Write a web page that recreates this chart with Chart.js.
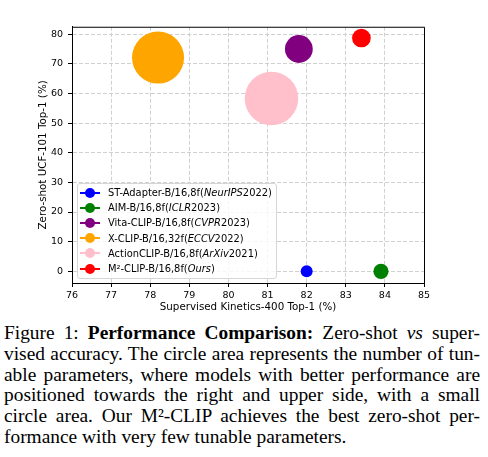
<!DOCTYPE html>
<html>
<head>
<meta charset="utf-8">
<script src="https://cdn.jsdelivr.net/npm/chart.js@4.4.0/dist/chart.umd.min.js"></script>
<style>
  html, body { margin: 0; padding: 0; background: #fff; }
  body { width: 488px; height: 457px; position: relative; overflow: hidden; }
  #chart-box { position: absolute; left: 0; top: 0; width: 488px; height: 318px; }
  #legend {
    position: absolute; left: 77px; top: 183px; width: 200px; box-sizing: border-box;
    padding: 1px 0 2px 0; border: 1px solid #d6d6d6; border-radius: 3px;
    background: rgba(255, 255, 255, 0.8);
    font: 9.9px 'DejaVu Sans'; color: #000;
  }
  .row { height: 15.2px; display: flex; align-items: center; white-space: nowrap; }
  .mark { position: relative; width: 20px; height: 10px; margin: 0 8px 0 2px; flex: none; }
  .mark .ln { position: absolute; left: 0; right: 0; top: 4px; height: 2px; }
  .mark .dot { position: absolute; left: 5px; top: 0; width: 10px; height: 10px; border-radius: 50%; }
  #caption {
    position: absolute; left: 4px; top: 323px; width: 476px;
    font-family: 'Liberation Serif', 'Times New Roman', serif; font-size: 19.4px; line-height: 20.8px; color: #000;
  }
  #caption div { text-align: justify; text-align-last: justify; white-space: nowrap; }
  #caption div.last { text-align-last: left; }
</style>
</head>
<body>
<div id="chart-box"><canvas id="bubble-chart"></canvas></div>
<div id="legend"></div>
<div id="caption">
  <div>Figure 1: <b>Performance Comparison:</b> Zero-shot <i>vs</i> super-</div>
  <div>vised accuracy. The circle area represents the number of tun-</div>
  <div>able parameters, where models with better performance are</div>
  <div>positioned towards the right and upper side, with a small</div>
  <div>circle area. Our M²-CLIP achieves the best zero-shot per-</div>
  <div class="last">formance with very few tunable parameters.</div>
</div>
<script>
// values
const models = ['ST-Adapter-B/16,8f', 'AIM-B/16,8f', 'Vita-CLIP-B/16,8f', 'X-CLIP-B/16,32f', 'ActionCLIP-B/16,8f', 'M²-CLIP-B/16,8f'];
const venues = ['NeurIPS', 'ICLR', 'CVPR', 'ECCV', 'ArXiv', 'Ours'];
const years = ['2022', '2023', '2023', '2022', '2021', ''];
const supervisedK400 = [82.0, 83.9, 81.8, 78.2, 81.1, 83.4];
const zeroShotUCF = [0, 0, 75.0, 72.1, 58.3, 78.7];
const tunableParams = [7.4, 12, 40, 140, 148, 18];   // millions, circle area
const colors = ['#0000ff', '#008000', '#800080', '#ffa500', '#ffc0cb', '#ff0000'];
const xTicks = [76, 77, 78, 79, 80, 81, 82, 83, 84, 85];
const yTicks = [0, 10, 20, 30, 40, 50, 60, 70, 80];

Chart.defaults.font.family = 'DejaVu Sans';
Chart.defaults.font.size = 9.5;
Chart.defaults.color = '#000';

const datasets = models.map((name, i) => ({
    label: name,
    data: [{ x: supervisedK400[i], y: zeroShotUCF[i], r: Math.sqrt(tunableParams[i]) * 2.2 }],
    backgroundColor: colors[i],
    borderWidth: 0,
    hoverRadius: 0
}));

// top and right spines
const frame = {
    id: 'frame',
    afterDraw(chart) {
        const { ctx, chartArea: a } = chart;
        ctx.save();
        ctx.strokeStyle = '#000';
        ctx.lineWidth = 1;
        ctx.beginPath();
        ctx.moveTo(a.left, a.top + 0.5);
        ctx.lineTo(a.right + 0.5, a.top + 0.5);
        ctx.lineTo(a.right + 0.5, a.bottom);
        ctx.stroke();
        ctx.restore();
    }
};

const gridStyle = { color: '#d0d0d0', tickColor: '#000', tickLength: 4, tickWidth: 1 };
const titleFont = { size: 10.3 };

new Chart(document.getElementById('bubble-chart'), {
    type: 'bubble',
    data: { datasets },
    options: {
        responsive: true,
        maintainAspectRatio: false,
        animation: false,
        layout: { padding: { left: 37, right: 64, top: 21, bottom: 0 } },
        plugins: { legend: { display: false }, tooltip: { enabled: false } },
        scales: {
            x: {
                type: 'linear', min: xTicks[0], max: xTicks[xTicks.length - 1],
                afterBuildTicks: (s) => { s.ticks = xTicks.map(v => ({ value: v })); },
                afterFit: (s) => { s.height = 35; },
                ticks: { padding: 3, maxRotation: 0 },
                grid: gridStyle,
                border: { color: '#000', width: 1, dash: [4, 2] },
                title: { display: true, text: 'Supervised Kinetics-400 Top-1 (%)', font: titleFont, padding: { top: 0, bottom: 4.2 } }
            },
            y: {
                type: 'linear', min: -3.95, max: 82.5,
                afterBuildTicks: (s) => { s.ticks = yTicks.map(v => ({ value: v })); },
                afterFit: (s) => { s.width = 35; },
                ticks: { padding: 5 },
                grid: gridStyle,
                border: { color: '#000', width: 1, dash: [4, 2] },
                title: { display: true, text: 'Zero-shot UCF-101 Top-1 (%)', font: titleFont, padding: { top: 0, bottom: 0 } }
            }
        }
    },
    plugins: [frame]
});

// legend inside the axes, lower left
const legend = document.getElementById('legend');
models.forEach((name, i) => {
    const row = document.createElement('div');
    row.className = 'row';
    row.innerHTML = '<span class="mark"><span class="ln" style="background:' + colors[i] + '"></span>' +
        '<span class="dot" style="background:' + colors[i] + '"></span></span>' +
        '<span>' + name + '(<i>' + venues[i] + '</i>' + years[i] + ')</span>';
    legend.appendChild(row);
});
</script>
</body>
</html>
